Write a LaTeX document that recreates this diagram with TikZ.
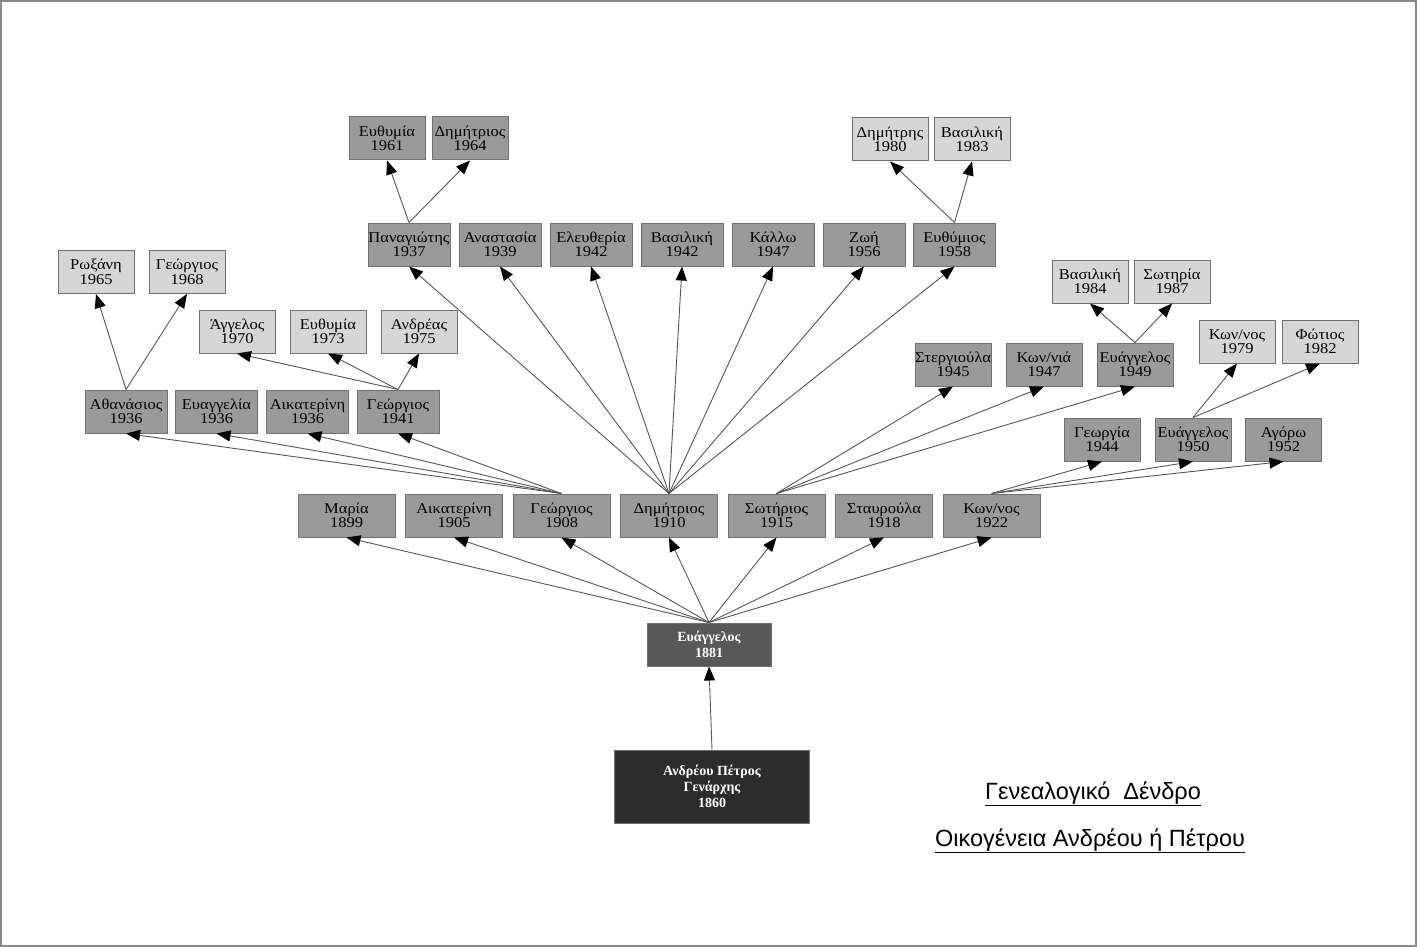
\documentclass[tikz,border=0pt]{standalone}
\usepackage{fontspec}
\setmainfont{Liberation Serif}
\newfontfamily\boxfont[FakeStretch=1.1]{Liberation Serif}
\newfontfamily\titlefont{Liberation Sans}
\usetikzlibrary{arrows.meta}
\tikzset{
  person/.style={
    draw=boxedge,
    fill=boxmid,
    line width=1pt,
    minimum width=82pt,
    minimum height=43pt,
    inner sep=0pt,
    align=center,
    font=\boxfont\fontsize{15}{14.5}\selectfont
  },
  person-wide/.style={person, minimum width=97pt},
  person-small/.style={person, minimum width=76pt},
  person-light/.style={person-small, fill=boxlight},
  person-dark/.style={person, fill=boxdark, text=white, minimum width=124pt, font=\rmfamily\fontsize{14}{16}\selectfont\bfseries},
  person-root/.style={person-dark, fill=boxroot, minimum width=195pt, minimum height=73pt},
  link/.style={every edge/.style={draw=linegray, line width=0.9pt, -{Triangle[length=14pt,width=11pt,color=black]}}},
  title/.style={font=\titlefont\fontsize{23.5}{26}\selectfont, inner sep=0pt, anchor=base},
  frame/.style={draw=framegray, line width=2pt}
}
\definecolor{boxmid}{RGB}{154,154,154}
\definecolor{boxlight}{RGB}{214,214,214}
\definecolor{boxdark}{RGB}{88,88,88}
\definecolor{boxroot}{RGB}{44,44,44}
\definecolor{boxedge}{RGB}{112,112,112}
\definecolor{linegray}{RGB}{85,85,85}
\definecolor{framegray}{RGB}{138,138,138}

\begin{document}
\begin{tikzpicture}[x=1pt, y=-1pt]
  \useasboundingbox (0,0) rectangle (1417,947);
  \draw[frame] (1,1) rectangle (1416,946);

  % 1. Founder and son
  \node[person-root] (root) at (712,786.5) {Ανδρέου Πέτρος\\Γενάρχης\\1860};
  \node[person-dark] (evangelos) at (709,644.5) {Ευάγγελος\\1881};

  % 2. Children of Evangelos
  \node[person-wide] (maria)        at (346.5,515.5) {Μαρία\\1899};
  \node[person-wide] (aikaterini)   at (454,515.5)   {Αικατερίνη\\1905};
  \node[person-wide] (georgios)     at (561.5,515.5) {Γεώργιος\\1908};
  \node[person-wide] (dimitrios)    at (669,515.5)   {Δημήτριος\\1910};
  \node[person-wide] (sotirios)     at (776.5,515.5) {Σωτήριος\\1915};
  \node[person-wide] (stavroula)    at (884,515.5)   {Σταυρούλα\\1918};
  \node[person-wide] (konstantinos) at (991.5,515.5) {Κων/νος\\1922};

  % 3. Branch of Georgios
  \node[person] (athanasios)   at (126,411.5)   {Αθανάσιος\\1936};
  \node[person] (evangelia)    at (216.5,411.5) {Ευαγγελία\\1936};
  \node[person] (aikaterini-g) at (307.5,411.5) {Αικατερίνη\\1936};
  \node[person] (georgios-g)   at (398,411.5)   {Γεώργιος\\1941};
  \node[person-light] (roxani)     at (96,272)    {Ρωξάνη\\1965};
  \node[person-light] (georgios-a) at (187,272)   {Γεώργιος\\1968};
  \node[person-light] (angelos)    at (237,331.5) {Άγγελος\\1970};
  \node[person-light] (efthymia-g) at (328,331.5) {Ευθυμία\\1973};
  \node[person-light] (andreas)    at (419,331.5) {Ανδρέας\\1975};

  % 4. Branch of Dimitrios
  \node[person] (panagiotis) at (409,244.5)   {Παναγιώτης\\1937};
  \node[person] (anastasia)  at (500,244.5)   {Αναστασία\\1939};
  \node[person] (eleftheria) at (591,244.5)   {Ελευθερία\\1942};
  \node[person] (vasiliki-d) at (682,244.5)   {Βασιλική\\1942};
  \node[person] (kallo)      at (773,244.5)   {Κάλλω\\1947};
  \node[person] (zoi)        at (864,244.5)   {Ζωή\\1956};
  \node[person] (efthymios)  at (954.5,244.5) {Ευθύμιος\\1958};
  \node[person-small] (efthymia-p)  at (387,138.5) {Ευθυμία\\1961};
  \node[person-small] (dimitrios-p) at (470,138.5) {Δημήτριος\\1964};
  \node[person-light] (dimitris)    at (890,139.5) {Δημήτρης\\1980};
  \node[person-light] (vasiliki-e)  at (972,139.5) {Βασιλική\\1983};

  % 5. Branch of Sotirios
  \node[person-small] (stergioula)  at (953,364.5)  {Στεργιούλα\\1945};
  \node[person-small] (konnia)      at (1044,364.5) {Κων/νιά\\1947};
  \node[person-small] (evangelos-s) at (1135,364.5) {Ευάγγελος\\1949};
  \node[person-light] (vasiliki-s)  at (1090,281.5) {Βασιλική\\1984};
  \node[person-light] (sotiria)     at (1172,281.5) {Σωτηρία\\1987};

  % 6. Branch of Konstantinos
  \node[person-small] (georgia)     at (1102,439.5)   {Γεωργία\\1944};
  \node[person-small] (evangelos-k) at (1193,439.5)   {Ευάγγελος\\1950};
  \node[person-small] (agoro)       at (1283.5,439.5) {Αγόρω\\1952};
  \node[person-light] (konnos)      at (1237,341.5)   {Κων/νος\\1979};
  \node[person-light] (fotios)      at (1320,341.5)   {Φώτιος\\1982};

  % 7. Links, parent top to child bottom
  \path[link] (root.north) edge (evangelos.south);
  \path[link] (evangelos.north) edge (maria.south) edge (aikaterini.south) edge (georgios.south)
    edge (dimitrios.south) edge (sotirios.south) edge (stavroula.south) edge (konstantinos.south);
  \path[link] (georgios.north) edge (athanasios.south) edge (evangelia.south)
    edge (aikaterini-g.south) edge (georgios-g.south);
  \path[link] (athanasios.north) edge (roxani.south) edge (georgios-a.south);
  \path[link] (georgios-g.north) edge (angelos.south) edge (efthymia-g.south) edge (andreas.south);
  \path[link] (dimitrios.north) edge (panagiotis.south) edge (anastasia.south) edge (eleftheria.south)
    edge (vasiliki-d.south) edge (kallo.south) edge (zoi.south) edge (efthymios.south);
  \path[link] (panagiotis.north) edge (efthymia-p.south) edge (dimitrios-p.south);
  \path[link] (efthymios.north) edge (dimitris.south) edge (vasiliki-e.south);
  \path[link] (sotirios.north) edge (stergioula.south) edge (konnia.south) edge (evangelos-s.south);
  \path[link] (evangelos-s.north) edge (vasiliki-s.south) edge (sotiria.south);
  \path[link] (konstantinos.north) edge (georgia.south) edge (evangelos-k.south) edge (agoro.south);
  \path[link] (evangelos-k.north) edge (konnos.south) edge (fotios.south);

  % 8. Title
  \node[title] (tree-title)   at (1093,799) {\underline{Γενεαλογικό\ \ Δένδρο}};
  \node[title] (family-title) at (1090,846) {\underline{Οικογένεια Ανδρέου ή Πέτρου}};

\end{tikzpicture}
\end{document}
